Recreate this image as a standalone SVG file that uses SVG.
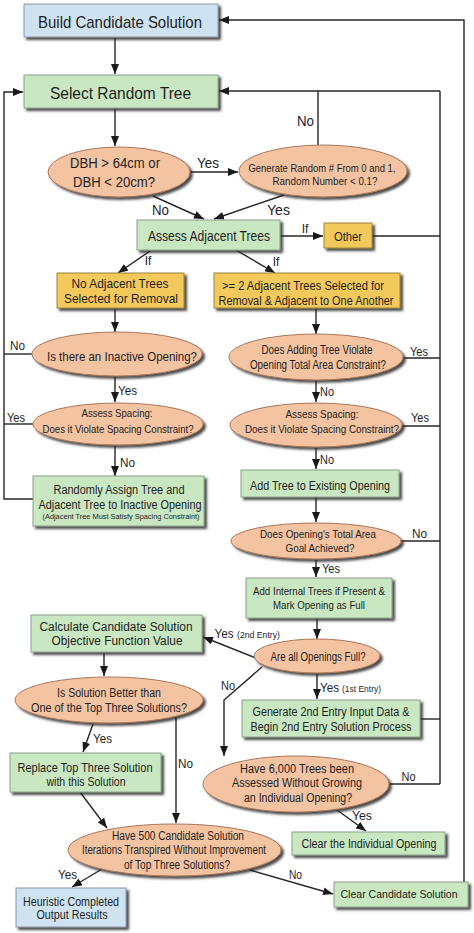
<svg xmlns="http://www.w3.org/2000/svg" width="474" height="933" viewBox="0 0 474 933">
<defs>
<filter id="sh" x="-10%" y="-10%" width="130%" height="140%"><feDropShadow dx="2.5" dy="2.5" stdDeviation="1" flood-color="#2a2a2a" flood-opacity="0.85"/></filter>
<marker id="ah" markerUnits="userSpaceOnUse" markerWidth="10" markerHeight="8" refX="10" refY="4" orient="auto"><path d="M0,0 L10,4 L0,8 z" fill="#1a1a1a"/></marker>
</defs>
<style>
text{font-family:"Liberation Sans",Arial,sans-serif;fill:#1e1e1e;text-anchor:middle}
.b{fill:#cfe2f2;stroke:#8c96a0;stroke-width:1;filter:url(#sh)}
.g{fill:#c9e8c1;stroke:#8aa08a;stroke-width:1;filter:url(#sh)}
.y{fill:#f4c95c;stroke:#9a8440;stroke-width:1;filter:url(#sh)}
.e{fill:#f3c3a2;stroke:#a8785a;stroke-width:1;filter:url(#sh)}
.c path{fill:none;stroke:#262626;stroke-width:1.4}
.c path.a{marker-end:url(#ah)}
.l{font-size:13px}
</style>
<rect width="474" height="933" fill="#fff"/>
<g class="c" id="connectors">
<path class="a" d="M115,37 V74"/>
<path class="a" d="M115,108 V146"/>
<path class="a" d="M190,172 H238"/>
<path class="a" d="M153,196 L204,219"/>
<path class="a" d="M284,195 L214,219"/>
<path d="M318,145 V91"/>
<path d="M440,784 V91"/>
<path class="a" d="M440,91 H219"/>
<path class="a" d="M280,236 H323"/>
<path d="M372,236 H440"/>
<path class="a" d="M150,251 L118,273"/>
<path class="a" d="M236,250 L275,273"/>
<path class="a" d="M115,308 V332"/>
<path class="a" d="M115,377 V402"/>
<path class="a" d="M115,446 V476"/>
<path class="a" d="M33,499 H4 V92 H23"/>
<path d="M32,354 H4"/>
<path d="M33,424 H4"/>
<path class="a" d="M316,308 V334"/>
<path class="a" d="M316,380 V402"/>
<path class="a" d="M316,447 V469"/>
<path class="a" d="M316,497 V522"/>
<path class="a" d="M316,559 V577"/>
<path class="a" d="M317,618 V639"/>
<path class="a" d="M256,658 L203,637"/>
<path class="a" d="M262,667 L224,700 V756"/>
<path class="a" d="M317,673 V699"/>
<path d="M420,719 H440"/>
<path d="M403,358 H440"/>
<path d="M402,426 H440"/>
<path d="M401,541 H440"/>
<path d="M389,784 H440"/>
<path class="a" d="M337,810 L366,831"/>
<path class="a" d="M104,652 V676"/>
<path class="a" d="M93,724 L83,752"/>
<path class="a" d="M176,717 V823"/>
<path class="a" d="M80,792 L107,828"/>
<path class="a" d="M102,869 L72,887"/>
<path class="a" d="M250,870 L333,894"/>
<path class="a" d="M464,882 V20 H219"/>
</g>
<g id="n-build"><rect class="b" x="24" y="4" width="194" height="33"/><text x="120" y="27.5" font-size="17" textLength="164" lengthAdjust="spacingAndGlyphs">Build Candidate Solution</text></g>
<g id="n-select"><rect class="g" x="24" y="75" width="194" height="33"/><text x="120.5" y="99" font-size="17" textLength="141" lengthAdjust="spacingAndGlyphs">Select Random Tree</text></g>
<g id="n-dbh"><ellipse class="e" cx="119" cy="172" rx="71" ry="25"/><text x="115" y="168" font-size="14" textLength="90" lengthAdjust="spacingAndGlyphs">DBH &gt; 64cm or</text><text x="114" y="187" font-size="14" textLength="82" lengthAdjust="spacingAndGlyphs">DBH &lt; 20cm?</text></g>
<g id="n-gen"><ellipse class="e" cx="323" cy="171" rx="84" ry="26"/><text x="322" y="172" font-size="11.5" textLength="147" lengthAdjust="spacingAndGlyphs">Generate Random # From 0 and 1,</text><text x="325" y="185" font-size="11.5" textLength="105" lengthAdjust="spacingAndGlyphs">Random Number &lt; 0.1?</text></g>
<g id="n-assess"><rect class="g" x="137" y="220" width="143" height="30"/><text x="209" y="241" font-size="14" textLength="122" lengthAdjust="spacingAndGlyphs">Assess Adjacent Trees</text></g>
<g id="n-other"><rect class="y" x="324" y="223" width="48" height="25"/><text x="348" y="241" font-size="13.5" textLength="28" lengthAdjust="spacingAndGlyphs">Other</text></g>
<g id="n-noadj"><rect class="y" x="57" y="273" width="127" height="35"/><text x="120" y="288" font-size="13.5" textLength="97" lengthAdjust="spacingAndGlyphs">No Adjacent Trees</text><text x="121" y="303" font-size="13.5" textLength="114" lengthAdjust="spacingAndGlyphs">Selected for Removal</text></g>
<g id="n-ge2"><rect class="y" x="214" y="273" width="186" height="35"/><text x="303" y="290" font-size="13" textLength="162" lengthAdjust="spacingAndGlyphs">&gt;= 2 Adjacent Trees Selected for</text><text x="306" y="305" font-size="13" textLength="175" lengthAdjust="spacingAndGlyphs">Removal &amp; Adjacent to One Another</text></g>
<g id="n-inactive"><ellipse class="e" cx="117" cy="354" rx="85" ry="22"/><text x="122" y="361" font-size="13" textLength="150" lengthAdjust="spacingAndGlyphs">Is there an Inactive Opening?</text></g>
<g id="n-spacing-l"><ellipse class="e" cx="118" cy="424" rx="85" ry="21"/><text x="117" y="417" font-size="11.5" textLength="71" lengthAdjust="spacingAndGlyphs">Assess Spacing:</text><text x="118" y="433" font-size="11.5" textLength="151" lengthAdjust="spacingAndGlyphs">Does it Violate Spacing Constraint?</text></g>
<g id="n-random"><rect class="g" x="33" y="476" width="171" height="50"/><text x="119" y="494" font-size="12.5" textLength="131" lengthAdjust="spacingAndGlyphs">Randomly Assign Tree and</text><text x="120" y="509" font-size="12.5" textLength="163" lengthAdjust="spacingAndGlyphs">Adjacent Tree to Inactive Opening</text><text x="121" y="519" font-size="7.5" textLength="157" lengthAdjust="spacingAndGlyphs">(Adjacent Tree Must Satisfy Spacing Constraint)</text></g>
<g id="n-adding"><ellipse class="e" cx="316" cy="357" rx="87" ry="23"/><text x="317" y="354" font-size="12" textLength="111" lengthAdjust="spacingAndGlyphs">Does Adding Tree Violate</text><text x="318" y="369" font-size="12" textLength="136" lengthAdjust="spacingAndGlyphs">Opening Total Area Constraint?</text></g>
<g id="n-spacing-r"><ellipse class="e" cx="316" cy="425" rx="86" ry="22"/><text x="322" y="418" font-size="11.5" textLength="73" lengthAdjust="spacingAndGlyphs">Assess Spacing:</text><text x="322" y="433" font-size="11.5" textLength="154" lengthAdjust="spacingAndGlyphs">Does it Violate Spacing Constraint?</text></g>
<g id="n-addtree"><rect class="g" x="241" y="470" width="158" height="27"/><text x="320" y="490" font-size="13" textLength="140" lengthAdjust="spacingAndGlyphs">Add Tree to Existing Opening</text></g>
<g id="n-goal"><ellipse class="e" cx="316" cy="541" rx="85" ry="18"/><text x="318" y="538" font-size="11.5" textLength="116" lengthAdjust="spacingAndGlyphs">Does Opening's Total Area</text><text x="320" y="552" font-size="11.5" textLength="69" lengthAdjust="spacingAndGlyphs">Goal Achieved?</text></g>
<g id="n-internal"><rect class="g" x="246" y="578" width="146" height="40"/><text x="319" y="595" font-size="11.5" textLength="132" lengthAdjust="spacingAndGlyphs">Add Internal Trees if Present &amp;</text><text x="319" y="609" font-size="11.5" textLength="92" lengthAdjust="spacingAndGlyphs">Mark Opening as Full</text></g>
<g id="n-full"><ellipse class="e" cx="317" cy="656" rx="63" ry="17"/><text x="318" y="661" font-size="12" textLength="95" lengthAdjust="spacingAndGlyphs">Are all Openings Full?</text></g>
<g id="n-gen2"><rect class="g" x="242" y="700" width="178" height="37"/><text x="331" y="716" font-size="12.5" textLength="157" lengthAdjust="spacingAndGlyphs">Generate 2nd Entry Input Data &amp;</text><text x="331" y="731" font-size="12.5" textLength="161" lengthAdjust="spacingAndGlyphs">Begin 2nd Entry Solution Process</text></g>
<g id="n-6000"><ellipse class="e" cx="296" cy="784" rx="93" ry="28"/><text x="297" y="773" font-size="12.5" textLength="114" lengthAdjust="spacingAndGlyphs">Have 6,000 Trees been</text><text x="297" y="787" font-size="12.5" textLength="130" lengthAdjust="spacingAndGlyphs">Assessed Without Growing</text><text x="298" y="802" font-size="12.5" textLength="108" lengthAdjust="spacingAndGlyphs">an Individual Opening?</text></g>
<g id="n-clearind"><rect class="g" x="292" y="832" width="153" height="23"/><text x="369" y="848" font-size="12.5" textLength="135" lengthAdjust="spacingAndGlyphs">Clear the Individual Opening</text></g>
<g id="n-clearcand"><rect class="g" x="334" y="882" width="134" height="25"/><text x="399" y="898" font-size="11.5" textLength="117" lengthAdjust="spacingAndGlyphs">Clear Candidate Solution</text></g>
<g id="n-calc"><rect class="g" x="31" y="615" width="171" height="37"/><text x="116" y="631" font-size="12.5" textLength="153" lengthAdjust="spacingAndGlyphs">Calculate Candidate Solution</text><text x="117" y="645" font-size="12.5" textLength="131" lengthAdjust="spacingAndGlyphs">Objective Function Value</text></g>
<g id="n-better"><ellipse class="e" cx="109" cy="700" rx="94" ry="23"/><text x="109" y="697" font-size="12" textLength="104" lengthAdjust="spacingAndGlyphs">Is Solution Better than</text><text x="109" y="712" font-size="12" textLength="156" lengthAdjust="spacingAndGlyphs">One of the Top Three Solutions?</text></g>
<g id="n-replace"><rect class="g" x="10" y="753" width="151" height="39"/><text x="85" y="772" font-size="12.5" textLength="135" lengthAdjust="spacingAndGlyphs">Replace Top Three Solution</text><text x="86" y="786" font-size="12.5" textLength="79" lengthAdjust="spacingAndGlyphs">with this Solution</text></g>
<g id="n-500"><ellipse class="e" cx="174.5" cy="850" rx="106.5" ry="26"/><text x="178" y="840" font-size="12" textLength="132" lengthAdjust="spacingAndGlyphs">Have 500 Candidate Solution</text><text x="174" y="854" font-size="12" textLength="184" lengthAdjust="spacingAndGlyphs">Iterations Transpired Without Improvement</text><text x="177" y="869" font-size="12" textLength="106" lengthAdjust="spacingAndGlyphs">of Top Three Solutions?</text></g>
<g id="n-heur"><rect class="b" x="16" y="888" width="110" height="39"/><text x="71" y="906" font-size="12.5" textLength="96" lengthAdjust="spacingAndGlyphs">Heuristic Completed</text><text x="72" y="919" font-size="12.5" textLength="71" lengthAdjust="spacingAndGlyphs">Output Results</text></g>
<g id="labels">
<text x="208" y="168" font-size="14" textLength="22" lengthAdjust="spacingAndGlyphs">Yes</text>
<text x="305.5" y="126" font-size="14" textLength="17" lengthAdjust="spacingAndGlyphs">No</text>
<text x="160.5" y="215" font-size="14" textLength="17" lengthAdjust="spacingAndGlyphs">No</text>
<text x="278.5" y="215" font-size="14" textLength="23" lengthAdjust="spacingAndGlyphs">Yes</text>
<text x="305" y="233" font-size="12">If</text>
<text x="148" y="265" font-size="12">If</text>
<text x="276" y="266" font-size="12">If</text>
<text x="17.5" y="350" class="l" textLength="15" lengthAdjust="spacingAndGlyphs">No</text>
<text x="127.5" y="395" class="l" textLength="19" lengthAdjust="spacingAndGlyphs">Yes</text>
<text x="16" y="422" class="l" textLength="18" lengthAdjust="spacingAndGlyphs">Yes</text>
<text x="127.5" y="467" class="l" textLength="15" lengthAdjust="spacingAndGlyphs">No</text>
<text x="419" y="356" class="l" textLength="18" lengthAdjust="spacingAndGlyphs">Yes</text>
<text x="327" y="396" class="l" textLength="14" lengthAdjust="spacingAndGlyphs">No</text>
<text x="420" y="422" class="l" textLength="18" lengthAdjust="spacingAndGlyphs">Yes</text>
<text x="327" y="464" class="l" textLength="14" lengthAdjust="spacingAndGlyphs">No</text>
<text x="419.5" y="538" class="l" textLength="15" lengthAdjust="spacingAndGlyphs">No</text>
<text x="331" y="573" class="l" textLength="18" lengthAdjust="spacingAndGlyphs">Yes</text>
<text x="224" y="638" font-size="12" textLength="19" lengthAdjust="spacingAndGlyphs">Yes</text>
<text x="258.5" y="638" font-size="9" textLength="43" lengthAdjust="spacingAndGlyphs">(2nd Entry)</text>
<text x="228" y="690" class="l" textLength="14" lengthAdjust="spacingAndGlyphs">No</text>
<text x="329.5" y="692" class="l" textLength="19" lengthAdjust="spacingAndGlyphs">Yes</text>
<text x="361.5" y="692" font-size="9" textLength="39" lengthAdjust="spacingAndGlyphs">(1st Entry)</text>
<text x="408.5" y="781" class="l" textLength="14" lengthAdjust="spacingAndGlyphs">No</text>
<text x="362" y="820" class="l" textLength="20" lengthAdjust="spacingAndGlyphs">Yes</text>
<text x="295.5" y="879" class="l" textLength="13" lengthAdjust="spacingAndGlyphs">No</text>
<text x="102.5" y="743" class="l" textLength="19" lengthAdjust="spacingAndGlyphs">Yes</text>
<text x="185.5" y="768" class="l" textLength="15" lengthAdjust="spacingAndGlyphs">No</text>
<text x="67.5" y="879" class="l" textLength="19" lengthAdjust="spacingAndGlyphs">Yes</text>
</g>
</svg>
